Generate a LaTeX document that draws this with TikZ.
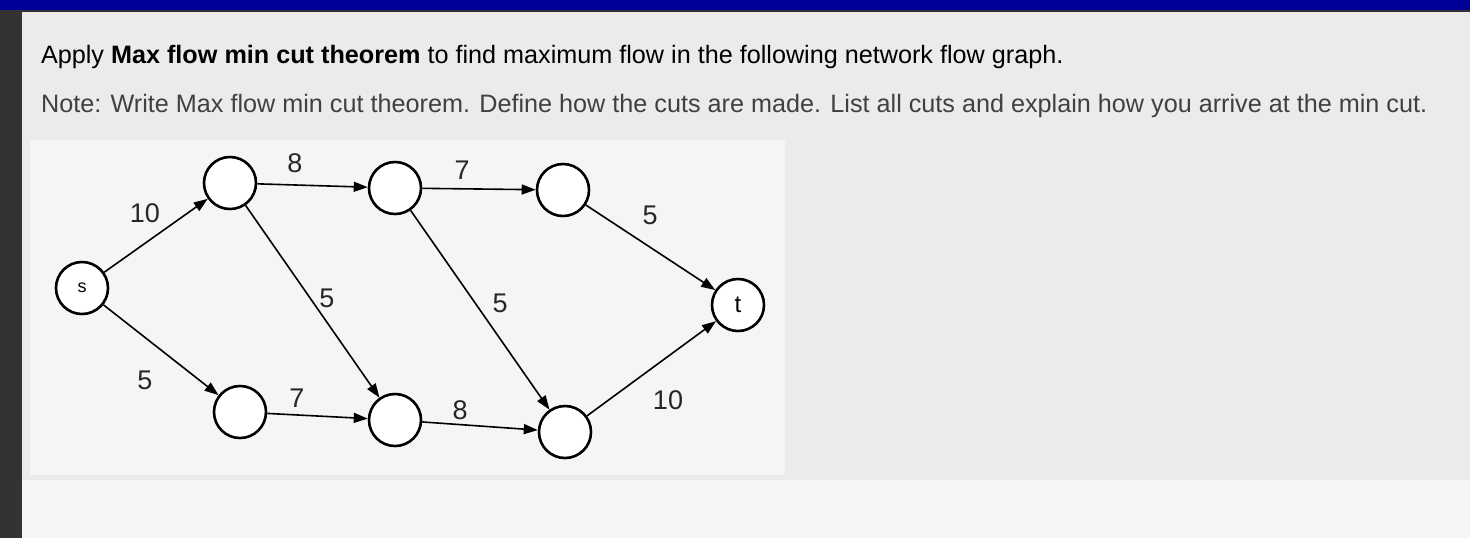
\documentclass[tikz,border=0pt]{standalone}
\usepackage{fontspec}
\setmainfont{Liberation Sans}
\usetikzlibrary{arrows.meta}
\begin{document}
\begin{tikzpicture}[x=0.5pt,y=-0.5pt,
  vtx/.style={circle,draw,line width=1.3pt,minimum size=26pt,inner sep=0pt,fill=white},
  edge/.style={draw,line width=0.8pt,-{Triangle[length=7pt,width=5pt]}},
  lab/.style={font=\fontsize{13.5}{16}\selectfont,text=black!85}]
\useasboundingbox (0,0) rectangle (1470,538);
\fill[black!80] (0,0) rectangle (1470,538);
\fill[blue!60!black] (0,0) rectangle (1470,10);
\fill[black!4!white] (22,12) rectangle (1470,538);
\fill[black!8!white] (22,12) rectangle (1470,480);
\fill[white!96!black] (30,140) rectangle (785,475);
\node[anchor=west,font=\fontsize{12.6}{15}\selectfont] (t1) at (34,57) {Apply \textbf{Max flow min cut theorem} to find maximum flow in the following network flow graph.};
\node[anchor=west,font=\fontsize{12.6}{15}\selectfont,text=black!75] (t2) at (34,106) {Note: Write Max flow min cut theorem. Define how the cuts are made. List all cuts and explain how you arrive at the min cut.};
\node[vtx,font=\small] (s) at (82,288) {s};
\node[vtx] (a) at (230,183) {};
\node[vtx] (b) at (395,188) {};
\node[vtx] (c) at (563,190) {};
\node[vtx,font=\large] (t) at (738,305) {t};
\node[vtx] (d) at (240,412) {};
\node[vtx] (e) at (395,420) {};
\node[vtx] (f) at (565,432) {};
\draw[edge] (s) -- (a);
\draw[edge] (s) -- (d);
\draw[edge] (a) -- (b);
\draw[edge] (b) -- (c);
\draw[edge] (c) -- (t);
\draw[edge] (a) -- (e);
\draw[edge] (b) -- (f);
\draw[edge] (d) -- (e);
\draw[edge] (e) -- (f);
\draw[edge] (f) -- (t);
\node[lab] (l1) at (145,213) {10};
\node[lab] (l2) at (145,380) {5};
\node[lab] (l3) at (295,163) {8};
\node[lab] (l4) at (462,170) {7};
\node[lab] (l5) at (650,215) {5};
\node[lab] (l6) at (327,298) {5};
\node[lab] (l7) at (500,303) {5};
\node[lab] (l8) at (297,398) {7};
\node[lab] (l9) at (460,410) {8};
\node[lab] (l10) at (668,400) {10};
\end{tikzpicture}
\end{document}
